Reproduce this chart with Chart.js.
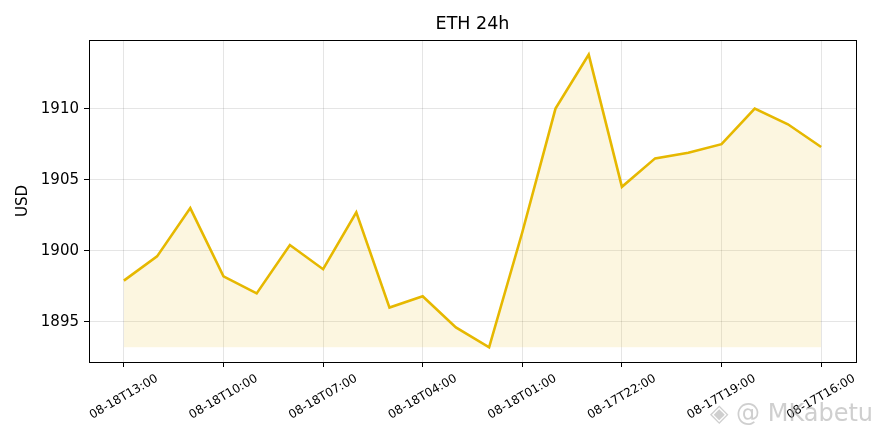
<!DOCTYPE html>
<html>
<head>
<meta charset="utf-8">
<script src="https://cdn.jsdelivr.net/npm/chart.js@4.4.0/dist/chart.umd.min.js"></script>
<style>
  html, body { margin: 0; padding: 0; background: #fff; }
  #wrap { position: relative; width: 880px; height: 440px; }
  #watermark {
    position: absolute; left: 710px; top: 398px;
    font-family: "DejaVu Sans", sans-serif; font-size: 24px; line-height: 30px;
    color: rgba(160, 160, 160, 0.5); white-space: nowrap; pointer-events: none;
  }
</style>
</head>
<body>
<div id="wrap">
  <canvas id="ethChart" width="880" height="440"></canvas>
  <div id="watermark">&#x25C8; @ MKabetu</div>
</div>
<script>
// hourly timestamps (newest first, as in the source)
const hours = ['08-18T13:00', '08-18T12:00', '08-18T11:00', '08-18T10:00', '08-18T09:00', '08-18T08:00',
    '08-18T07:00', '08-18T06:00', '08-18T05:00', '08-18T04:00', '08-18T03:00', '08-18T02:00',
    '08-18T01:00', '08-18T00:00', '08-17T23:00', '08-17T22:00', '08-17T21:00', '08-17T20:00',
    '08-17T19:00', '08-17T18:00', '08-17T17:00', '08-17T16:00'];
const prices = [1897.9, 1899.6, 1903.0, 1898.2, 1897.0, 1900.4, 1898.7, 1902.7, 1896.0, 1896.8, 1894.6,
    1893.2, 1901.3, 1910.0, 1913.8, 1904.5, 1906.5, 1906.9, 1907.5, 1910.0, 1908.9, 1907.3];
const yTicks = [1895, 1900, 1905, 1910];

const FONT = '"DejaVu Sans", sans-serif';
const minPrice = Math.min(...prices);
const maxPrice = Math.max(...prices);
const pad = (maxPrice - minPrice) * 0.05;

// frame, title, y label and rotated x labels (matplotlib-like)
const decorPlugin = {
    id: 'decor',
    afterDraw(chart) {
        const { ctx, chartArea: a, scales } = chart;
        ctx.save();
        ctx.strokeStyle = '#000';
        ctx.lineWidth = 1;
        ctx.strokeRect(a.left + 0.5, a.top + 0.5, a.right - a.left, a.bottom - a.top);

        ctx.fillStyle = '#000';
        ctx.font = '17.5px ' + FONT;
        ctx.textAlign = 'center';
        ctx.textBaseline = 'middle';
        ctx.fillText('ETH 24h', (a.left + a.right) / 2, 24);

        ctx.font = '15px ' + FONT;
        ctx.save();
        ctx.translate(23, (a.top + a.bottom) / 2);
        ctx.rotate(-Math.PI / 2);
        ctx.fillText('USD', 0, 0);
        ctx.restore();

        ctx.font = '12px ' + FONT;
        const xs = scales.x;
        xs.ticks.forEach(t => {
            const idx = Math.round(t.value);
            if (!hours[idx]) return;
            const x = xs.getPixelForValue(t.value);
            ctx.save();
            ctx.translate(x, a.bottom + 35);
            ctx.rotate(-Math.PI / 6);
            ctx.fillText(hours[idx], 0, 0);
            ctx.restore();
        });
        ctx.restore();
    }
};

const ctx = document.getElementById('ethChart').getContext('2d');
const ethChart = new Chart(ctx, {
    type: 'line',
    data: {
        datasets: [{
            data: prices.map((p, i) => ({ x: i, y: p })),
            borderColor: '#e6b800',
            borderWidth: 2.6,
            backgroundColor: 'rgba(230, 184, 0, 0.12)',
            fill: { value: minPrice },
            pointRadius: 0,
            tension: 0
        }]
    },
    options: {
        responsive: false,
        animation: false,
        layout: { padding: { top: 40, right: 24, left: 0, bottom: 0 } },
        plugins: {
            legend: { display: false },
            tooltip: { enabled: false }
        },
        scales: {
            x: {
                type: 'linear',
                min: -1.05,
                max: prices.length - 1 + 1.05,
                afterBuildTicks(scale) {
                    scale.ticks = [];
                    for (let i = 0; i < hours.length; i += 3) scale.ticks.push({ value: i });
                },
                afterFit(scale) { scale.height = 78; },
                ticks: { display: false },
                grid: { color: 'rgba(0,0,0,0.1)', tickColor: '#000', tickLength: 5, lineWidth: 1 },
                border: { color: '#000' }
            },
            y: {
                min: minPrice - pad,
                max: maxPrice + pad,
                afterBuildTicks(scale) {
                    scale.ticks = yTicks.map(v => ({ value: v }));
                },
                afterFit(scale) { scale.width = 89; },
                ticks: {
                    color: '#000',
                    font: { family: FONT, size: 15 },
                    padding: 5,
                    callback: v => String(v)
                },
                grid: { color: 'rgba(0,0,0,0.1)', tickColor: '#000', tickLength: 5, lineWidth: 1 },
                border: { color: '#000' }
            }
        }
    },
    plugins: [decorPlugin]
});
</script>
</body>
</html>
